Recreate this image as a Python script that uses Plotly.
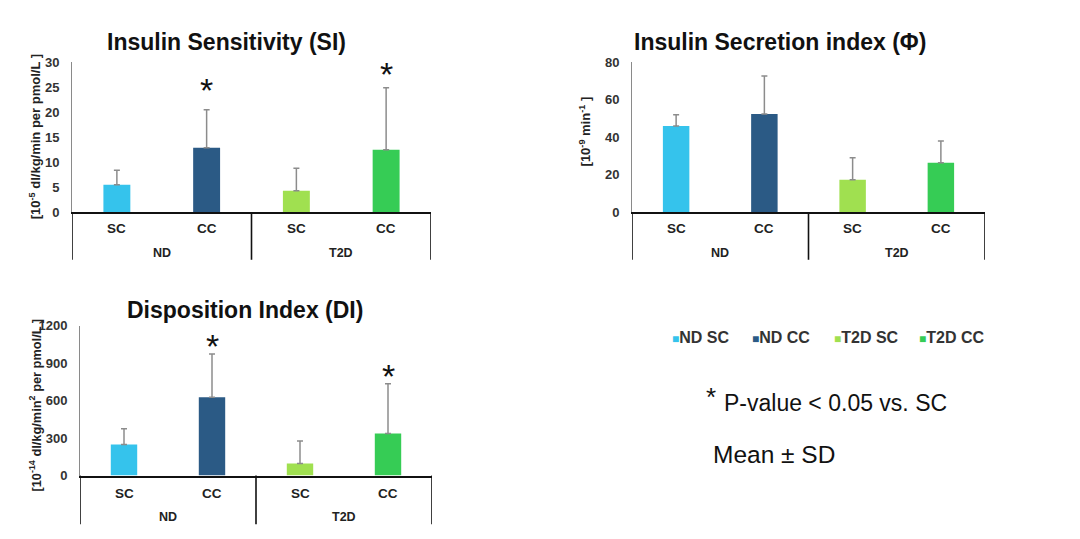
import plotly.graph_objects as go

# ---------------- data ----------------
groups = ["ND SC", "ND CC", "T2D SC", "T2D CC"]
sub_labels = ["SC", "CC", "SC", "CC"]
main_labels = ["ND", "T2D"]
colors = ["#35C3EC", "#2B5A85", "#A0E050", "#36CC55"]

si_mean = [5.5, 12.9, 4.3, 12.5]
si_sd = [2.9, 7.6, 4.5, 12.4]
si_sig = [False, True, False, True]

phi_mean = [46.0, 52.4, 17.3, 26.4]
phi_sd = [6.0, 20.3, 11.7, 11.6]
phi_sig = [False, False, False, False]

di_mean = [249, 628, 96, 337]
di_sd = [127, 346, 181, 400]
di_sig = [False, True, False, True]

si_ticks = [0, 5, 10, 15, 20, 25, 30]
phi_ticks = [0, 20, 40, 60, 80]
di_ticks = [0, 300, 600, 900, 1200]

titles = ["Insulin Sensitivity (SI)", "Insulin Secretion index (\u03a6)", "Disposition Index (DI)"]
ytitles = ["[10<sup>-5</sup> dl/kg/min per pmol/L ]",
           "[10<sup>-9</sup> min<sup>-1</sup> ]",
           "[10<sup>-14</sup> dl/kg/min<sup>2</sup> per pmol/L ]"]
note_star = "*"
note_p = "P-value < 0.05 vs. SC"
note_mean = "Mean \u00b1 SD"

# ---------------- layout helpers ----------------
W, H = 1080, 539
FONT = "Arial, Liberation Sans, sans-serif"


def px_x(p):
    return p / W


def px_y(p):
    return 1 - p / H


panels = [
    dict(mean=si_mean, sd=si_sd, sig=si_sig, ticks=si_ticks,
         xd=(72, 431), yd=(57, 211), sub_y=228, main_y=253, sep_end=260,
         title_xy=(226, 36), ytitle_x=35, ytitle_size=13, ytitle_off=0,
         star_shift=[0, 20, 0, 14]),
    dict(mean=phi_mean, sd=phi_sd, sig=phi_sig, ticks=phi_ticks,
         xd=(632, 985), yd=(57, 211), sub_y=228, main_y=253, sep_end=260,
         title_xy=(780, 36), ytitle_x=585, ytitle_size=13, ytitle_off=-6,
         star_shift=[0, 0, 0, 0]),
    dict(mean=di_mean, sd=di_sd, sig=di_sig, ticks=di_ticks,
         xd=(80, 432), yd=(328, 482), sub_y=500, main_y=525, sep_end=532,
         title_xy=(245, 312), ytitle_x=35, ytitle_size=12.8, ytitle_off=5,
         star_shift=[0, 8, 0, 8]),
]

fig = go.Figure()
annotations = []
shapes = []


def ann(**kw):
    kw.setdefault("showarrow", False)
    kw.setdefault("xanchor", "center")
    kw.setdefault("yanchor", "middle")
    annotations.append(kw)


for k, p in enumerate(panels):
    xa = "x" if k == 0 else f"x{k+1}"
    ya = "y" if k == 0 else f"y{k+1}"
    xkey = "xaxis" if k == 0 else f"xaxis{k+1}"
    ykey = "yaxis" if k == 0 else f"yaxis{k+1}"
    for i, g in enumerate(groups):
        fig.add_trace(go.Bar(
            x=[i], y=[p["mean"][i]], name=g, width=0.3,
            marker=dict(color=colors[i], line=dict(width=0)),
            error_y=dict(type="data", symmetric=False, array=[p["sd"][i]],
                         arrayminus=[0], color="#8c8c8c", thickness=1.5, width=3),
            xaxis=xa, yaxis=ya, showlegend=False, hoverinfo="skip"))
        if p["sig"][i]:
            ann(x=i, y=p["mean"][i] + p["sd"][i], xref=xa, yref=ya,
                text="*", yshift=p["star_shift"][i],
                font=dict(family=FONT, size=34, color="#111"))
    ymax = p["ticks"][-1]
    fig.update_layout({
        xkey: dict(domain=[px_x(p["xd"][0]), px_x(p["xd"][1])], range=[-0.5, 3.5],
                   showticklabels=False, showgrid=False, zeroline=False,
                   showline=True, linecolor="#111", linewidth=1.6, anchor=ya,
                   fixedrange=True),
        ykey: dict(domain=[px_y(p["yd"][1]), px_y(p["yd"][0])], range=[0, ymax],
                   tickvals=p["ticks"], showgrid=False, zeroline=False,
                   showline=True, linecolor="#8a8a8a", linewidth=1, anchor=xa,
                   ticks="", ticklabelstandoff=9,
                   tickfont=dict(family=FONT, size=13, color="#333",
                                 weight="bold"),
                   fixedrange=True),
    })
    for i, lab in enumerate(sub_labels):
        ann(x=i, y=px_y(p["sub_y"]), xref=xa, yref="paper",
            text=f"<b>{lab}</b>",
            font=dict(family=FONT, size=13.5, color="#222"))
    for j, lab in enumerate(main_labels):
        ann(x=2 * j + 0.5, y=px_y(p["main_y"]), xref=xa, yref="paper",
            text=f"<b>{lab}</b>",
            font=dict(family=FONT, size=12.5, color="#222"))
    for xs in [-0.5, 1.5, 3.5]:
        shapes.append(dict(type="line", xref=xa, yref="paper", x0=xs, x1=xs,
                           y0=px_y(p["yd"][1]), y1=px_y(p["sep_end"]),
                           line=dict(color="#111", width=1.6)))
    ann(x=px_x(p["title_xy"][0]), y=px_y(p["title_xy"][1]),
        xref="paper", yref="paper", text=f"<b>{titles[k]}</b>",
        font=dict(family=FONT, size=23, color="#111"))
    ann(x=px_x(p["ytitle_x"]),
        y=px_y((p["yd"][0] + p["yd"][1]) / 2 + p["ytitle_off"]),
        xref="paper", yref="paper", text=f"<b>{ytitles[k]}</b>",
        textangle=-90, font=dict(family=FONT, size=p["ytitle_size"], color="#222"))

# legend built as text entries
leg_x = [670, 750, 832, 917]
for i, g in enumerate(groups):
    ann(x=px_x(leg_x[i]), y=px_y(340), xref="paper", yref="paper",
        xanchor="left",
        text=f"<span style='color:{colors[i]};font-size:12px'>\u25a0</span><b>{g}</b>",
        font=dict(family=FONT, size=16, color="#333"))

ann(x=px_x(704), y=px_y(401), xref="paper", yref="paper", xanchor="left",
    text=note_star, font=dict(family=FONT, size=26, color="#111"))
ann(x=px_x(722), y=px_y(407), xref="paper", yref="paper", xanchor="left",
    text=note_p, font=dict(family=FONT, size=23, color="#111"))
ann(x=px_x(711), y=px_y(460), xref="paper", yref="paper", xanchor="left",
    text=note_mean, font=dict(family=FONT, size=24.5, color="#111"))

fig.update_layout(width=W, height=H, margin=dict(l=0, r=0, t=0, b=0),
                  paper_bgcolor="white", plot_bgcolor="white",
                  barmode="overlay", showlegend=False,
                  annotations=annotations, shapes=shapes,
                  font=dict(family=FONT))

fig.write_html("out.html")
